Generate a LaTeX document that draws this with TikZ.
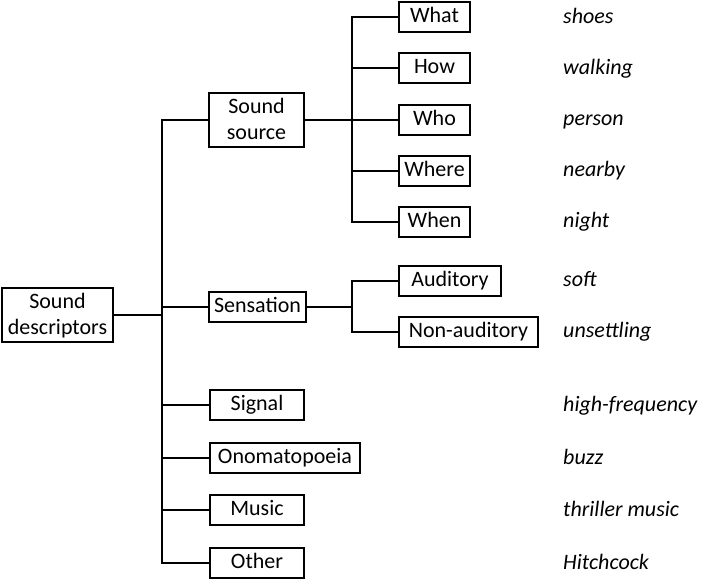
\documentclass[tikz,border=0pt]{standalone}
\usepackage{fontspec}
\setmainfont{Carlito}
\begin{document}
\begin{tikzpicture}[x=1pt,y=-1pt,
  box/.style={draw=black,line width=2pt,rectangle,inner sep=0pt,
    font=\fontsize{22}{26}\selectfont,text height=16pt,text depth=6pt},
  twoline/.style={box,align=center,text height=45pt,text depth=6pt},
  example/.style={anchor=west,inner sep=0pt,font=\fontsize{22}{26}\selectfont\itshape,
    text height=16pt,text depth=6pt},
  conn/.style={line width=2pt,line cap=rect}]
\useasboundingbox (0,0) rectangle (702,581);
% level 0
\node[twoline,minimum width=111pt,minimum height=54pt] (desc) at (57.5,315) {Sound\\descriptors};
% level 1
\node[twoline,minimum width=95pt,minimum height=54pt] (src) at (256.5,120) {Sound\\source};
\node[box,minimum width=97pt,minimum height=30pt] (sens) at (257.5,307) {Sensation};
\node[box,minimum width=94pt,minimum height=30pt] (sig) at (257,405) {Signal};
\node[box,minimum width=150pt,minimum height=30pt] (ono) at (285,458) {Onomatopoeia};
\node[box,minimum width=94pt,minimum height=30pt] (mus) at (257,510) {Music};
\node[box,minimum width=94pt,minimum height=30pt] (oth) at (257,563) {Other};
% level 2
\node[box,minimum width=71pt,minimum height=30pt] (what) at (434.5,17) {What};
\node[box,minimum width=71pt,minimum height=30pt] (how) at (434.5,68) {How};
\node[box,minimum width=71pt,minimum height=30pt] (who) at (434.5,120) {Who};
\node[box,minimum width=71pt,minimum height=30pt] (where) at (434.5,171) {Where};
\node[box,minimum width=71pt,minimum height=30pt] (when) at (434.5,222) {When};
\node[box,minimum width=102pt,minimum height=30pt] (aud) at (450,281) {Auditory};
\node[box,minimum width=139pt,minimum height=30pt] (nonaud) at (468.5,332) {Non-auditory};
% examples
\node[example] (e1) at (563,18) {shoes};
\node[example] (e2) at (563,69) {walking};
\node[example] (e3) at (563,120) {person};
\node[example] (e4) at (563,171) {nearby};
\node[example] (e5) at (563,222) {night};
\node[example] (e6) at (563,281) {soft};
\node[example] (e7) at (563,332) {unsettling};
\node[example] (e8) at (563,406) {high-frequency};
\node[example] (e9) at (563,459) {buzz};
\node[example] (e10) at (563,511) {thriller music};
\node[example] (e11) at (563,564) {Hitchcock};
% trunk coordinates
\coordinate (tr) at (162,0);
\coordinate (sr) at (352,0);
% main trunk
\draw[conn] (desc.east) -- (desc.east -| tr);
\draw[conn] (src.west -| tr) -- (oth.west -| tr);
\foreach \n in {src,sens,sig,ono,mus,oth}
  \draw[conn] (\n.west -| tr) -- (\n.west);
% sound source branch
\draw[conn] (src.east) -- (src.east -| sr);
\draw[conn] (what.west -| sr) -- (when.west -| sr);
\foreach \n in {what,how,who,where,when}
  \draw[conn] (\n.west -| sr) -- (\n.west);
% sensation branch
\draw[conn] (sens.east) -- (sens.east -| sr);
\draw[conn] (aud.west -| sr) -- (nonaud.west -| sr);
\foreach \n in {aud,nonaud}
  \draw[conn] (\n.west -| sr) -- (\n.west);
\end{tikzpicture}
\end{document}
